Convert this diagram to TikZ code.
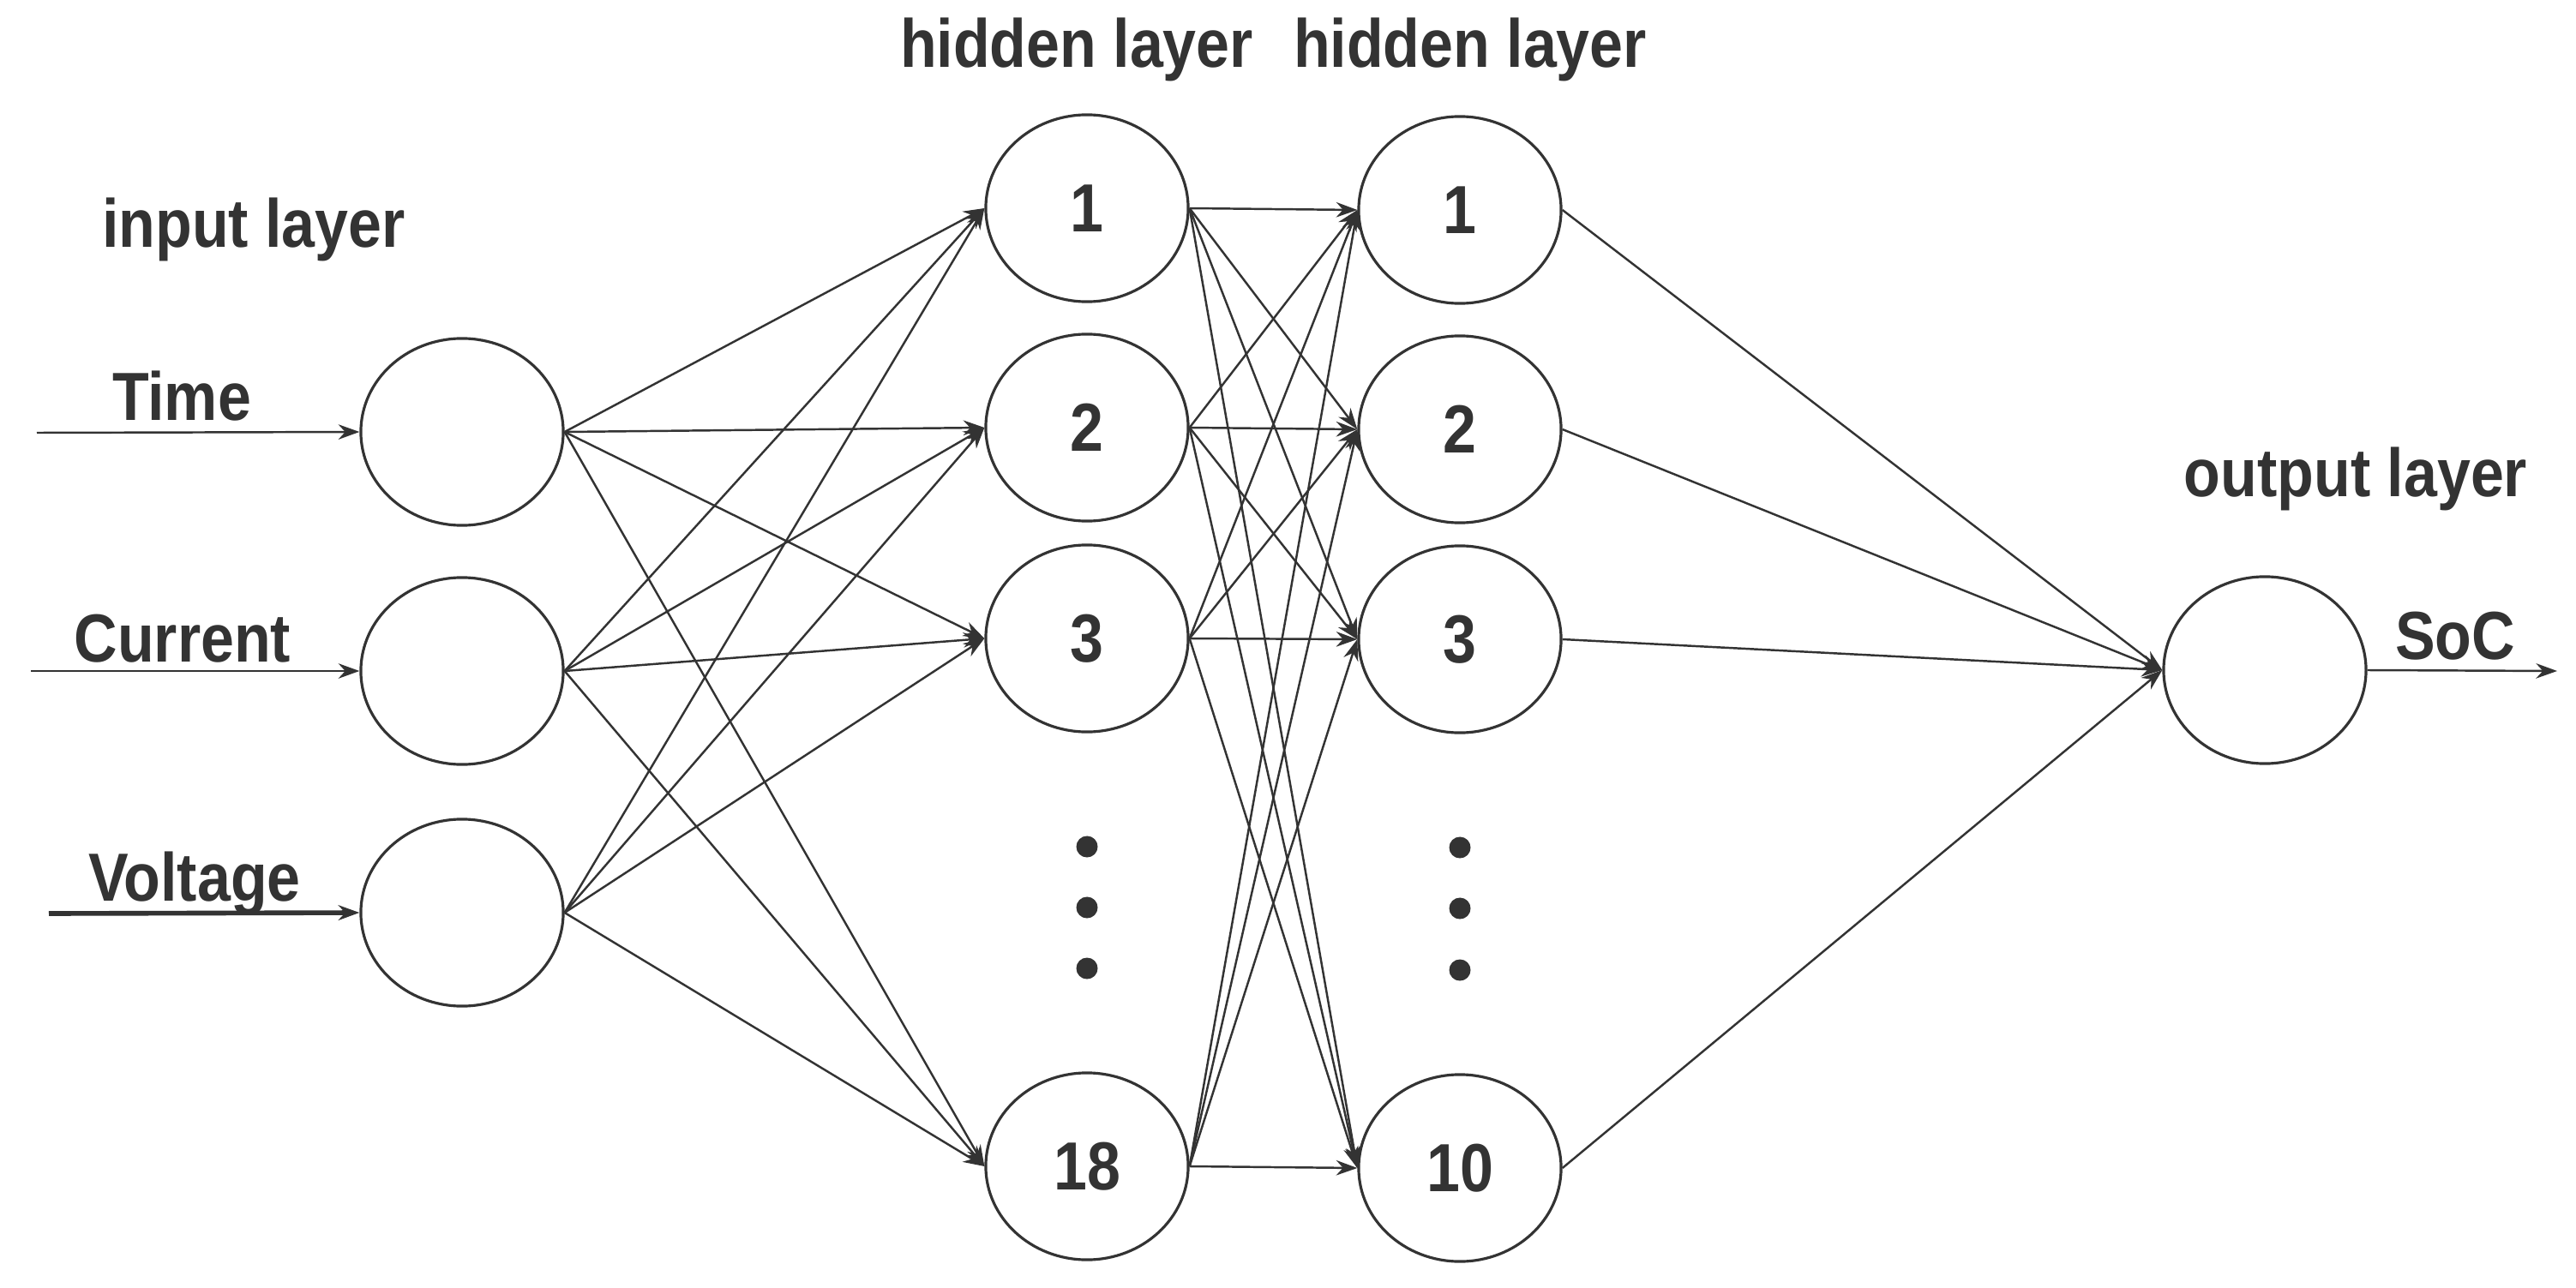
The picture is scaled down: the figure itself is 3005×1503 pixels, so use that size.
\documentclass[tikz,border=0pt]{standalone}
\usepackage{fontspec}
\setmainfont{Liberation Sans}[FakeStretch=0.88]
\usetikzlibrary{shapes.geometric,arrows.meta}
\definecolor{ink}{RGB}{51,51,51}
\newcommand\lblfont{\fontsize{22.6}{27}\selectfont\bfseries}
\begin{document}
\begin{tikzpicture}[x=0.01cm,y=-0.01cm,
  neuron/.style={draw=ink, ellipse, line width=0.9pt, minimum width=2.36cm, minimum height=2.18cm, inner sep=0pt, text=ink, font=\lblfont},
  link/.style={draw=ink, line width=0.7pt, -{Stealth[length=7pt,width=5pt]}},
  lbl/.style={text=ink, font=\lblfont, anchor=base, inner sep=0pt},
  dotn/.style={circle, fill=ink, minimum size=0.25cm, inner sep=0pt}]
\useasboundingbox (0,0) rectangle (3005,1503);
% input layer
\node[neuron] (i1) at (539,504) {};
\node[neuron] (i2) at (539,783) {};
\node[neuron] (i3) at (539,1065) {};
% hidden layer 1
\node[neuron] (a1) at (1268,243) {1};
\node[neuron] (a2) at (1268,499) {2};
\node[neuron] (a3) at (1268,745) {3};
\node[neuron] (a4) at (1268,1361) {18};
% hidden layer 2
\node[neuron] (b1) at (1703,245) {1};
\node[neuron] (b2) at (1703,501) {2};
\node[neuron] (b3) at (1703,746) {3};
\node[neuron] (b4) at (1703,1363) {10};
% output
\node[neuron] (o) at (2642,782) {};
% dots
\node[dotn] (da1) at (1268,988) {};
\node[dotn] (da2) at (1268,1059) {};
\node[dotn] (da3) at (1268,1130) {};
\node[dotn] (db1) at (1703,989) {};
\node[dotn] (db2) at (1703,1060) {};
\node[dotn] (db3) at (1703,1132) {};
% labels
\node[lbl] (lin) at (296,288) {input layer};
\node[lbl] (ltime) at (212,490) {Time};
\node[lbl] (lcur) at (213,772) {Current};
\node[lbl] (lvol) at (227,1051) {Voltage};
\node[lbl] (lh1) at (1256,79) {hidden layer};
\node[lbl] (lh2) at (1715,79) {hidden layer};
\node[lbl] (lout) at (2748,579) {output layer};
\node[lbl] (lsoc) at (2864,769) {SoC};
% input arrows
\coordinate (s1) at (43,505);
\coordinate (s2) at (36,783);
\coordinate (s3) at (57,1066);
\coordinate (e1) at (2983,783);
\draw[link] (s1) -- (i1.west);
\draw[link] (s2) -- (i2.west);
\draw[link, line width=1.6pt] (s3) -- (i3.west);
\draw[link] (o.east) -- (e1);
% connections
\foreach \p in {i1,i2,i3}
  \foreach \q in {a1,a2,a3,a4}
    \draw[link] (\p.east) -- (\q.west);
\foreach \p in {a1,a2,a3,a4}
  \foreach \q in {b1,b2,b3,b4}
    \draw[link] (\p.east) -- (\q.west);
\foreach \p in {b1,b2,b3,b4}
  \draw[link] (\p.east) -- (o.west);
\end{tikzpicture}
\end{document}
